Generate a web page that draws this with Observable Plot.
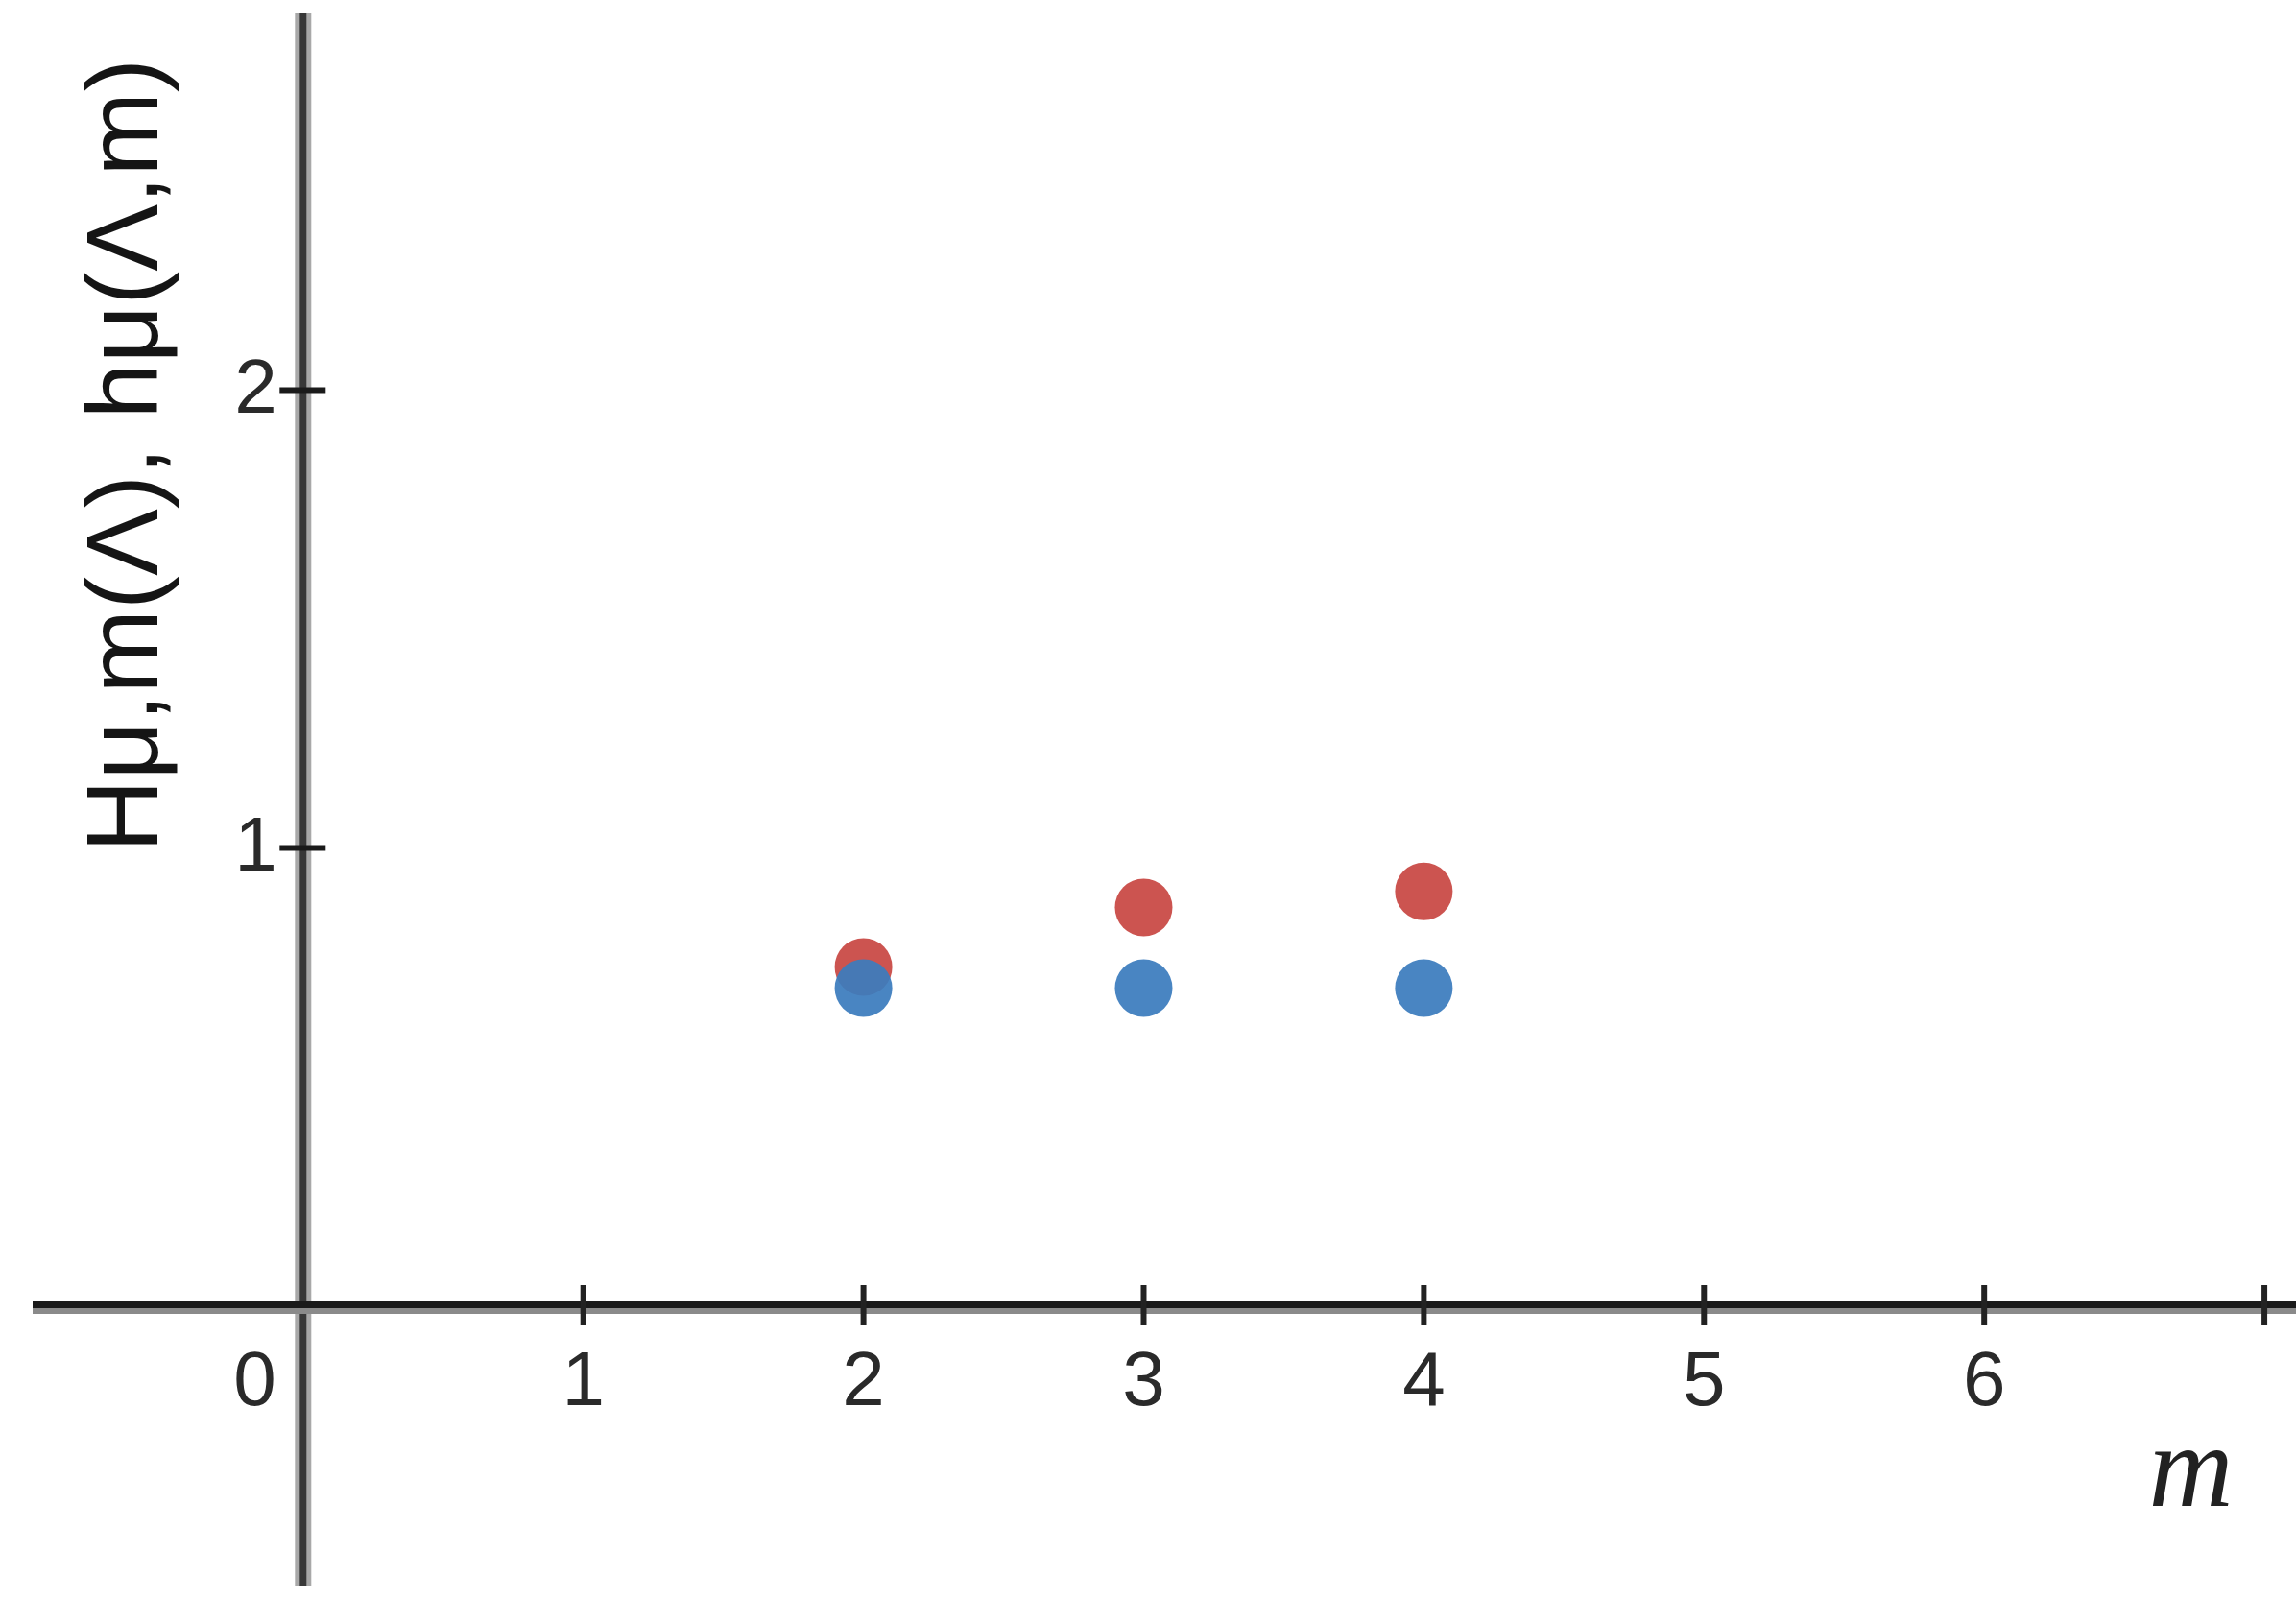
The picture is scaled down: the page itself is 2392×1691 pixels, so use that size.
<!DOCTYPE html>
<html><head><meta charset="utf-8">
<script src="https://cdn.jsdelivr.net/npm/d3@7"></script>
<script src="https://cdn.jsdelivr.net/npm/@observablehq/plot@0.6"></script>
<style>html,body{margin:0;padding:0;background:#fff;} #chart svg{display:block}</style>
</head><body><div id="chart"></div>
<script>
// Data
const mValues = [2, 3, 4];
const upperEntropy = [0.74, 0.87, 0.905];   // Hμ,m(Λ)  (red)
const lowerEntropy = [0.694, 0.694, 0.694]; // hμ(Λ,m)  (blue)
const xTicks = [1, 2, 3, 4, 5, 6, 7];
const xLabelValues = [1, 2, 3, 4, 5, 6];
const xTickLabels = ["1", "2", "3", "4", "5", "6"];
const yTicks = [1, 2];
const yTickLabels = ["1", "2"];
const originLabel = "0";
const yTitle = "Hμ,m(Λ), hμ(Λ,m)";
const xTitle = "m";

const redPts = mValues.map((m, i) => ({m, v: upperEntropy[i]}));
const bluePts = mValues.map((m, i) => ({m, v: lowerEntropy[i]}));

const sans = "Liberation Sans, Arial, sans-serif";
const zero = () => 0;

const chart = Plot.plot({
  width: 2392,
  height: 1691,
  marginTop: 14,
  marginBottom: 39,
  marginLeft: 34,
  marginRight: 0,
  x: {domain: [-0.9637, 7.1145], axis: null},
  y: {domain: [-0.6122, 2.8218], axis: null},
  style: {background: "white", overflow: "visible"},
  marks: [
    // y axis (halo + core)
    Plot.ruleX([0], {stroke: "#a8a8a8", strokeWidth: 17}),
    Plot.ruleX([0], {stroke: "#383838", strokeWidth: 7}),
    // x axis (halo below + core)
    Plot.ruleY([0], {stroke: "#8a8a8a", strokeWidth: 7, dy: 5}),
    Plot.ruleY([0], {stroke: "#1a1a1a", strokeWidth: 7, dy: -1}),
    // ticks
    Plot.ruleX(xTicks, {x: d => d, y1: zero, y2: zero, insetTop: -21, insetBottom: -21, stroke: "#222", strokeWidth: 6}),
    Plot.ruleY(yTicks, {y: d => d, x1: zero, x2: zero, insetLeft: -24, insetRight: -24, stroke: "#1a1a1a", strokeWidth: 6}),
    // tick labels
    Plot.text(xLabelValues, {x: d => d, y: zero, text: (d, i) => xTickLabels[i], dy: 78, fontSize: 80, fontFamily: sans, fill: "#2a2a2a"}),
    Plot.text([originLabel], {x: zero, y: zero, text: d => d, textAnchor: "end", dx: -28, dy: 78, fontSize: 80, fontFamily: sans, fill: "#2a2a2a"}),
    Plot.text(yTicks, {x: zero, y: d => d, text: (d, i) => yTickLabels[i], textAnchor: "end", dx: -27, dy: -2, fontSize: 80, fontFamily: sans, fill: "#2a2a2a"}),
    // axis titles
    Plot.text([yTitle], {frameAnchor: "top-left", text: d => d, rotate: -90, textAnchor: "middle", lineAnchor: "bottom", dx: 129, dy: 460, fontSize: 105, fontFamily: sans, fill: "#151515"}),
    Plot.text([xTitle], {frameAnchor: "bottom-right", text: d => d, textAnchor: "end", lineAnchor: "bottom", dx: -66, dy: -84, fontSize: 122, fontStyle: "italic", fontFamily: "Liberation Serif, Times New Roman, serif", fill: "#222"}),
    // points
    Plot.dot(redPts, {x: "m", y: "v", r: 30, fill: "#cc5450", stroke: "none"}),
    Plot.dot(bluePts, {x: "m", y: "v", r: 30, fill: "#3b7cbd", fillOpacity: 0.93, stroke: "none"})
  ]
});
document.getElementById("chart").appendChild(chart);
</script>
</body></html>
